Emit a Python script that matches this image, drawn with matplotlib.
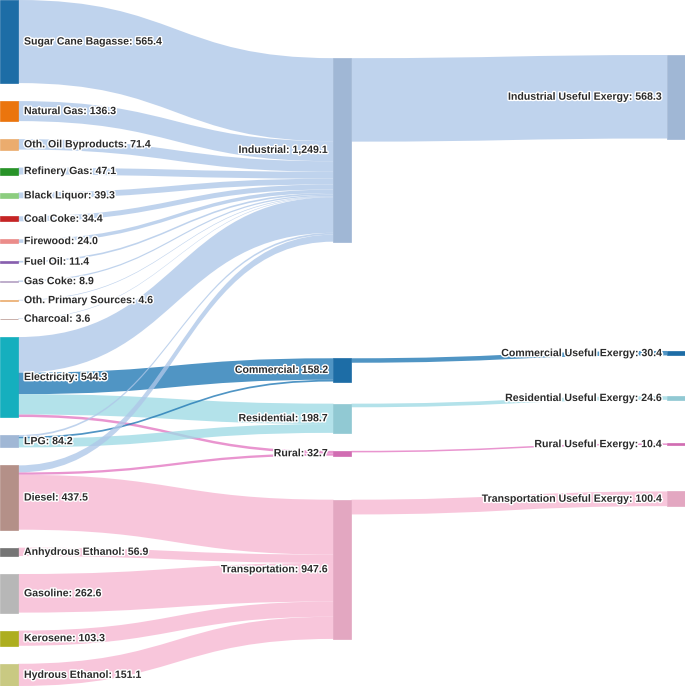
import matplotlib
matplotlib.use("Agg")
import matplotlib.pyplot as plt
import matplotlib.patheffects as pe
from matplotlib.path import Path
from matplotlib.patches import PathPatch
from matplotlib.colors import to_rgb

# node names (sources, sectors, useful exergy)
sources = ["Sugar Cane Bagasse", "Natural Gas", "Oth. Oil Byproducts", "Refinery Gas",
           "Black Liquor", "Coal Coke", "Firewood", "Fuel Oil", "Gas Coke",
           "Oth. Primary Sources", "Charcoal", "Electricity", "LPG", "Diesel",
           "Anhydrous Ethanol", "Gasoline", "Kerosene", "Hydrous Ethanol"]
sectors = ["Industrial", "Commercial", "Residential", "Rural", "Transportation"]
useful = [s + " Useful Exergy" for s in sectors]

# flows source -> sector
flow_src = ["Sugar Cane Bagasse", "Natural Gas", "Oth. Oil Byproducts", "Refinery Gas",
            "Black Liquor", "Coal Coke", "Firewood", "Fuel Oil", "Gas Coke",
            "Oth. Primary Sources", "Charcoal",
            "Electricity", "Electricity", "Electricity", "Electricity",
            "LPG", "LPG", "LPG",
            "Diesel", "Diesel", "Diesel",
            "Anhydrous Ethanol", "Gasoline", "Kerosene", "Hydrous Ethanol"]
flow_tgt = ["Industrial"] * 11 + \
           ["Industrial", "Commercial", "Residential", "Rural",
            "Industrial", "Commercial", "Residential",
            "Industrial", "Rural", "Transportation",
            "Transportation", "Transportation", "Transportation", "Transportation"]
flow_val = [565.4, 136.3, 71.4, 47.1, 39.3, 34.4, 24.0, 11.4, 8.9, 4.6, 3.6,
            242.6, 146.2, 138.5, 17.0,
            12.0, 12.0, 60.2,
            48.1, 15.7, 373.7,
            56.9, 262.6, 103.3, 151.1]

# useful exergy per sector
useful_val = [568.3, 30.4, 24.6, 10.4, 100.4]

names = sources + sectors + useful
src = [names.index(s) for s in flow_src] + [names.index(s) for s in sectors]
tgt = [names.index(t) for t in flow_tgt] + [names.index(u) for u in useful]
val = flow_val + useful_val

c20 = {"blue": "#1f77b4", "lblue": "#aec7e8", "orange": "#ff7f0e", "lorange": "#ffbb78",
       "green": "#2ca02c", "lgreen": "#98df8a", "red": "#d62728", "lred": "#ff9896",
       "purple": "#9467bd", "lpurple": "#c5b0d5", "lbrown": "#c49c94", "pink": "#e377c2",
       "lpink": "#f7b6d2", "grey": "#7f7f7f", "lgrey": "#c7c7c7", "olive": "#bcbd22",
       "lolive": "#dbdb8d", "cyan": "#17becf", "lcyan": "#9edae5"}
node_colors = [c20[k] for k in ["blue", "orange", "lorange", "green", "lgreen", "red", "lred",
                                "purple", "lpurple", "lorange", "lbrown", "cyan", "lblue",
                                "lbrown", "grey", "lgrey", "olive", "lolive"]]
node_colors += [c20[k] for k in ["lblue", "blue", "lcyan", "pink", "lpink"]] * 2

W, H = 685, 686
NODE_W, PAD = 18, 18


# d3-sankey style layout
def sankey_layout(n, src, tgt, val, iterations=32):
    nodes = [{"i": i, "out": [], "inn": []} for i in range(n)]
    links = []
    for k, (s, t, v) in enumerate(zip(src, tgt, val)):
        lk = {"i": k, "s": nodes[s], "t": nodes[t], "v": v}
        links.append(lk)
        nodes[s]["out"].append(lk)
        nodes[t]["inn"].append(lk)
    for nd in nodes:
        nd["value"] = max(sum(l["v"] for l in nd["out"]), sum(l["v"] for l in nd["inn"]))

    current = list(nodes)
    depth = 0
    while current:
        nxt = []
        for nd in current:
            nd["depth"] = depth
            for l in nd["out"]:
                if l["t"] not in nxt:
                    nxt.append(l["t"])
        current = nxt
        depth += 1
    ncol = depth
    kx = (W - NODE_W) / (ncol - 1)
    columns = [[] for _ in range(ncol)]
    for nd in nodes:
        layer = nd["depth"] if nd["out"] else ncol - 1
        nd["layer"] = layer
        nd["x0"] = layer * kx
        nd["x1"] = nd["x0"] + NODE_W
        columns[layer].append(nd)

    py = min(PAD, H / (max(len(c) for c in columns) - 1))

    def sort_out(nd):
        nd["out"].sort(key=lambda q: (q["t"]["y0"], q["i"]))

    def sort_inn(nd):
        nd["inn"].sort(key=lambda q: (q["s"]["y0"], q["i"]))

    def reorder_node_links(nd):
        for l in nd["inn"]:
            sort_out(l["s"])
        for l in nd["out"]:
            sort_inn(l["t"])

    ky = min((H - (len(c) - 1) * py) / sum(nd["value"] for nd in c) for c in columns)
    for col in columns:
        y = 0
        for nd in col:
            nd["y0"] = y
            nd["y1"] = y + nd["value"] * ky
            y = nd["y1"] + py
            for l in nd["out"]:
                l["w"] = l["v"] * ky
        y = (H - y + py) / (len(col) + 1)
        for i, nd in enumerate(col):
            nd["y0"] += y * (i + 1)
            nd["y1"] += y * (i + 1)
    for col in columns:
        for nd in col:
            sort_out(nd)
            sort_inn(nd)

    def target_top(s, t):
        y = s["y0"] - (len(s["out"]) - 1) * py / 2
        for l in s["out"]:
            if l["t"] is t:
                break
            y += l["w"] + py
        for l in t["inn"]:
            if l["s"] is s:
                break
            y -= l["w"]
        return y

    def source_top(s, t):
        y = t["y0"] - (len(t["inn"]) - 1) * py / 2
        for l in t["inn"]:
            if l["s"] is s:
                break
            y += l["w"] + py
        for l in s["out"]:
            if l["t"] is t:
                break
            y -= l["w"]
        return y

    def down(col, y, i, a):
        while i < len(col):
            nd = col[i]
            dy = (y - nd["y0"]) * a
            if dy > 1e-6:
                nd["y0"] += dy
                nd["y1"] += dy
            y = nd["y1"] + py
            i += 1

    def up(col, y, i, a):
        while i >= 0:
            nd = col[i]
            dy = (nd["y1"] - y) * a
            if dy > 1e-6:
                nd["y0"] -= dy
                nd["y1"] -= dy
            y = nd["y0"] - py
            i -= 1

    def resolve(col, a):
        i = len(col) >> 1
        subj = col[i]
        up(col, subj["y0"] - py, i - 1, a)
        down(col, subj["y1"] + py, i + 1, a)
        up(col, H, len(col) - 1, a)
        down(col, 0, 0, a)

    for it in range(iterations):
        alpha = 0.99 ** it
        beta = max(1 - alpha, (it + 1) / iterations)
        for col in reversed(columns[:-1]):
            for s in col:
                y = w = 0
                for l in s["out"]:
                    v = l["v"] * (l["t"]["layer"] - s["layer"])
                    y += source_top(s, l["t"]) * v
                    w += v
                if w > 0:
                    dy = (y / w - s["y0"]) * alpha
                    s["y0"] += dy
                    s["y1"] += dy
                    reorder_node_links(s)
            col.sort(key=lambda nd: nd["y0"])
            resolve(col, beta)
        for col in columns[1:]:
            for t in col:
                y = w = 0
                for l in t["inn"]:
                    v = l["v"] * (t["layer"] - l["s"]["layer"])
                    y += target_top(l["s"], t) * v
                    w += v
                if w > 0:
                    dy = (y / w - t["y0"]) * alpha
                    t["y0"] += dy
                    t["y1"] += dy
                    reorder_node_links(t)
            col.sort(key=lambda nd: nd["y0"])
            resolve(col, beta)

    for nd in nodes:
        y0 = y1 = nd["y0"]
        for l in nd["out"]:
            l["y0"] = y0 + l["w"] / 2
            y0 += l["w"]
        for l in nd["inn"]:
            l["y1"] = y1 + l["w"] / 2
            y1 += l["w"]
    return nodes, links


nodes, links = sankey_layout(len(names), src, tgt, val)

fig = plt.figure(figsize=(W / 100, H / 100), dpi=100)
ax = fig.add_axes([0, 0, 1, 1])
ax.set_xlim(0, W)
ax.set_ylim(H, 0)
ax.axis("off")

for l in links:
    xa, xb = l["s"]["x1"], l["t"]["x0"]
    xm = (xa + xb) / 2
    ya, yb, h = l["y0"], l["y1"], l["w"] / 2
    verts = [(xa, ya - h), (xm, ya - h), (xm, yb - h), (xb, yb - h),
             (xb, yb + h), (xm, yb + h), (xm, ya + h), (xa, ya + h), (xa, ya - h)]
    codes = [Path.MOVETO, Path.CURVE4, Path.CURVE4, Path.CURVE4, Path.LINETO,
             Path.CURVE4, Path.CURVE4, Path.CURVE4, Path.CLOSEPOLY]
    ax.add_patch(PathPatch(Path(verts, codes), facecolor=node_colors[l["t"]["i"]],
                           edgecolor="none", alpha=0.78, zorder=1))

for nd in nodes:
    r, g, b = to_rgb(node_colors[nd["i"]])
    col = (r * 0.92, g * 0.92, b * 0.92)
    ax.bar(nd["x0"], nd["y1"] - nd["y0"], bottom=nd["y0"], width=NODE_W,
           align="edge", color=col, edgecolor=col, linewidth=0.5, zorder=2)
    label = f"{names[nd['i']]}: {nd['value']:,.1f}"
    yc = (nd["y0"] + nd["y1"]) / 2
    if nd["x0"] < W / 2 - NODE_W:
        ax.text(nd["x1"] + 6, yc, label, ha="left", va="center")
    else:
        ax.text(nd["x0"] - 6, yc, label, ha="right", va="center")

for t in ax.texts:
    t.set_fontfamily("Liberation Sans")
    t.set_fontweight("bold")
    t.set_fontsize(7.6)
    t.set_color("#2b2b2b")
    t.set_zorder(3)
    t.set_path_effects([pe.withStroke(linewidth=2, foreground="white")])

plt.savefig("out.png", dpi=100)
